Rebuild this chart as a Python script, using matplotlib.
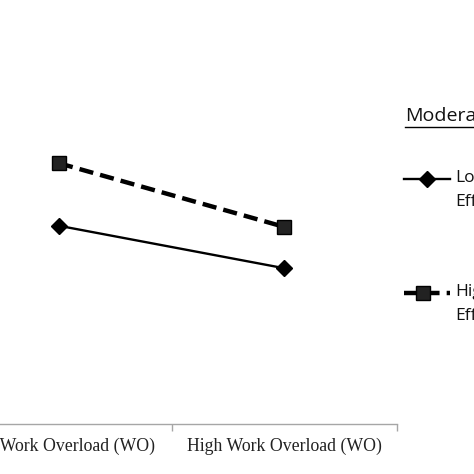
import matplotlib
matplotlib.use('Agg')
import matplotlib.pyplot as plt
from matplotlib.lines import Line2D

categories = ["Low Work Overload (WO)", "High Work Overload (WO)"]
low_effort = [2.87, 2.47]
high_effort = [3.46, 2.86]
legend_title = "Moderator"
legend_labels = ["Low\nEffort", "High\nEffort"]

W = 474.0
fig = plt.figure(figsize=(4.74, 4.74), dpi=100)
fig.patch.set_facecolor("white")

# axes deliberately wider than the figure, the left part is cut off like the reference
ax = fig.add_axes([-53.5 / W, 50 / W, 450 / W, 424 / W])
ax.set_xlim(-0.5, 1.5)
ax.set_ylim(1, 5)

ax.plot([0, 1], low_effort, color="black", lw=1.7, marker="D", ms=8)
ax.plot([0, 1], high_effort, color="black", lw=3.2, ls=(0, (3.2, 1.6)), marker="s",
        ms=9.5, mec="black", mfc="#222222")

for s in ["top", "left", "right"]:
    ax.spines[s].set_visible(False)
ax.spines["bottom"].set_color("#a6a6a6")
ax.spines["bottom"].set_linewidth(1.0)
ax.set_yticks([])
ax.set_xticks([0, 1])
ax.set_xticklabels(categories, family="Liberation Serif", fontsize=12.8, color="#222222")
ax.tick_params(axis="x", which="major", length=0, pad=10)
ax.set_xticks([-0.5, 0.5, 1.5], minor=True)
ax.tick_params(axis="x", which="minor", length=5, color="#a6a6a6", width=1.0)

# manual legend on the right
fig.text(405 / W, 1 - 116 / W, legend_title, family="Open Sans", fontsize=14,
         va="center", ha="left", color="#111111")
fig.add_artist(Line2D([405 / W, 474 / W], [1 - 127 / W, 1 - 127 / W], color="black", lw=1.0))

fig.add_artist(Line2D([404 / W, 450 / W], [1 - 179 / W] * 2, color="black", lw=1.7))
fig.add_artist(Line2D([427 / W], [1 - 179 / W], color="black", marker="D", ms=8))
fig.text(455 / W, 1 - 190 / W, legend_labels[0], family="Open Sans", fontsize=12.5,
         va="center", ha="left", linespacing=1.6, color="#111111")

fig.add_artist(Line2D([404 / W, 450 / W], [1 - 293 / W] * 2, color="black", lw=3.2,
                      ls=(0, (3.2, 1.6))))
fig.add_artist(Line2D([423 / W], [1 - 293 / W], color="black", marker="s", ms=9.5,
                      mfc="#222222"))
fig.text(455 / W, 1 - 304 / W, legend_labels[1], family="Open Sans", fontsize=12.5,
         va="center", ha="left", linespacing=1.6, color="#111111")

fig.savefig("out.png", dpi=100)
